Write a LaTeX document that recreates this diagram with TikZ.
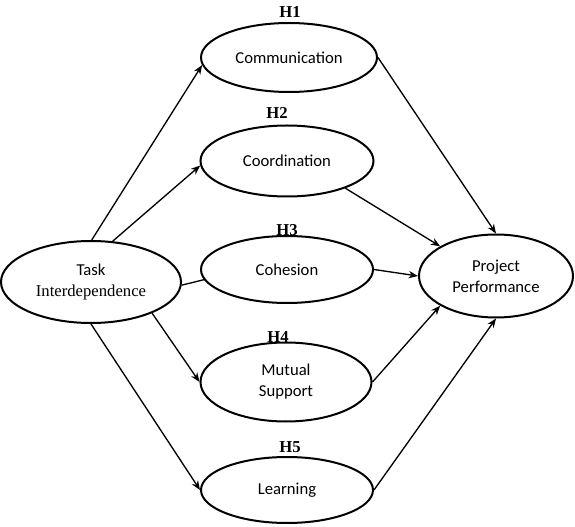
\documentclass[tikz,border=0pt]{standalone}
\usepackage{fontspec}
\setmainfont{Liberation Serif}
\newfontfamily\carl{Carlito}
\usetikzlibrary{shapes.geometric,arrows.meta}
\begin{document}
\begin{tikzpicture}[x=0.75pt,y=-0.75pt,
  oval/.style={draw,ellipse,line width=1.5pt,inner sep=0pt,align=center,
    font=\carl\fontsize{12.5}{15.75}\selectfont},
  hyp/.style={inner sep=0pt,font=\bfseries\fontsize{12.5}{14}\selectfont},
  conn/.style={line width=1pt,-{Stealth[length=7pt,width=5.5pt]}},
  plain/.style={line width=1pt}]
\useasboundingbox (0,0) rectangle (575,527);
\node[oval,minimum width=135pt,minimum height=61.5pt] (task) at (91,282)
  {Task\\{\rmfamily Interdependence}};
\node[oval,minimum width=132pt,minimum height=51.75pt] (comm) at (289,57.5) {Communication};
\node[oval,minimum width=129.75pt,minimum height=53.25pt] (coord) at (287,161) {Coordination};
\node[oval,minimum width=129pt,minimum height=50.25pt] (coh) at (287,269.5) {Cohesion};
\node[oval,minimum width=128.25pt,minimum height=59.25pt] (mut) at (286,382) {Mutual\\Support};
\node[oval,minimum width=129pt,minimum height=49.5pt] (learn) at (287,490) {Learning};
\node[oval,minimum width=115.5pt,minimum height=62.25pt] (pp) at (496,276) {Project\\Performance};
\node[hyp] (h1) at (290,12) {H1};
\node[hyp] (h2) at (277,113) {H2};
\node[hyp] (h3) at (287,230) {H3};
\node[hyp] (h4) at (278,337) {H4};
\node[hyp] (h5) at (290,447) {H5};
\draw[conn] (task.89) -- (comm.185);
\draw[conn] (task.62) -- (coord.183);
\draw[plain] (task.358) -- (coh.187);
\draw[conn] (task.-27) -- (mut.west);
\draw[conn] (task.south) -- (learn.west);
\draw[conn] (comm.east) -- (pp.north);
\draw[conn] (coord.-25) -- (pp.152);
\draw[conn] (coh.east) -- (pp.west);
\draw[conn] (mut.east) -- (pp.208);
\draw[conn] (learn.east) -- (pp.south);
\end{tikzpicture}
\end{document}
